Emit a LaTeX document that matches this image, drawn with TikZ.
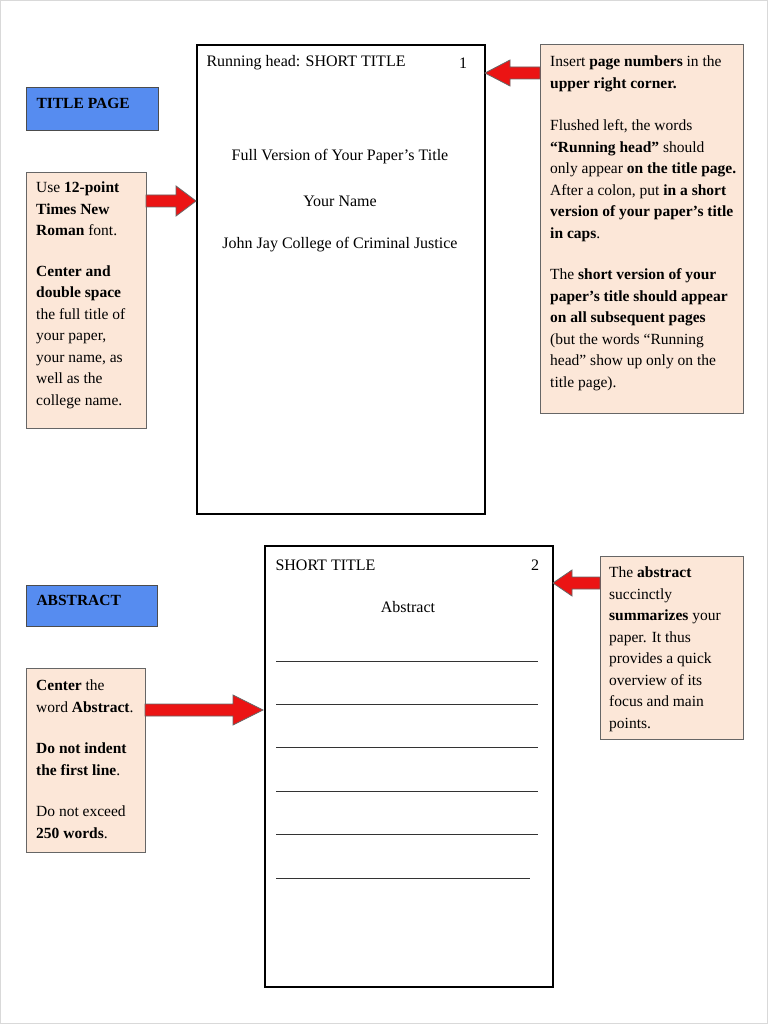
\documentclass[tikz,border=0pt]{standalone}
\usepackage{fontspec}
\setmainfont{Liberation Serif}
\begin{document}
\begin{tikzpicture}[x=1pt,y=-1pt,
  note/.style={draw=black!60,fill={rgb,255:red,252;green,231;blue,216},line width=1pt,anchor=north west,inner sep=0pt},
  lbl/.style={draw=black!70,fill={rgb,255:red,86;green,140;blue,240},line width=1pt,anchor=north west,inner sep=0pt},
  page/.style={draw=black,line width=1.6pt,anchor=north west,inner sep=0pt},
  rarrow/.style={fill={rgb,255:red,235;green,20;blue,20},draw=black!60,line width=0.8pt},
  txt/.style={font=\fontsize{16}{21.3}\selectfont},
  ntxt/.style={font=\fontsize{15.5}{21.5}\selectfont,anchor=north west,align=left,inner sep=0pt}]
\useasboundingbox (0,0) rectangle (768,1024);
\draw[black!15] (0.5,0.5) rectangle (767.5,1023.5);
% title page
\node[lbl,minimum width=132pt,minimum height=43pt] (tp) at (26,87) {};
\node[font=\bfseries\fontsize{15.5}{17}\selectfont,anchor=west] (tpt) at (33,103) {TITLE PAGE};
\node[page,minimum width=288pt,minimum height=469pt] (p1) at (196,44) {};
\node[txt,anchor=west] (rh) at (203,63) {Running head: SHORT TITLE};
\node[txt] (n1) at (463,63) {1};
\node[txt] (t1) at (340,157) {Full Version of Your Paper’s Title};
\node[txt] (t2) at (340,201) {Your Name};
\node[txt] (t3) at (340,245) {John Jay College of Criminal Justice};
\node[note,minimum width=120pt,minimum height=256pt] (l1) at (26,172) {};
\node[ntxt] (l1t) at (36,182) {Use \textbf{12-point}\\\textbf{Times New}\\\textbf{Roman} font.\\[19pt]\textbf{Center and}\\\textbf{double space}\\the full title of\\your paper,\\your name, as\\well as the\\college name.};
\node[note,minimum width=203pt,minimum height=369pt] (r1) at (540,44) {};
\node[ntxt] (r1t) at (550,56) {Insert \textbf{page numbers} in the\\\textbf{upper right corner.}\\[21pt]Flushed left, the words\\\textbf{“Running head”} should\\only appear \textbf{on the title page.}\\After a colon, put \textbf{in a short}\\\textbf{version of your paper’s title}\\\textbf{in caps}.\\[20pt]The \textbf{short version of your}\\\textbf{paper’s title should appear}\\\textbf{on all subsequent pages}\\(but the words “Running\\head” show up only on the\\title page).};
\draw[rarrow] (146,195)--(176,195)--(176,186)--(196,201)--(176,216)--(176,207)--(146,207)--cycle;
\draw[rarrow] (540,67)--(510,67)--(510,60)--(485,73)--(510,86)--(510,79)--(540,79)--cycle;
% abstract page
\node[lbl,minimum width=131pt,minimum height=41pt] (ab) at (26,585) {};
\node[font=\bfseries\fontsize{15.5}{17}\selectfont,anchor=west] (abt) at (33,600) {ABSTRACT};
\node[page,minimum width=288pt,minimum height=441pt] (p2) at (264,545) {};
\node[txt,anchor=west] (st) at (272,565) {SHORT TITLE};
\node[txt] (n2) at (535,565) {2};
\node[txt] (abh) at (408,607) {Abstract};
\foreach \y/\e in {661/538,704/538,747/538,791/538,834/538,878/530}
  \draw[black!80,line width=0.8pt] (276,\y)--(\e,\y);
\node[note,minimum width=119pt,minimum height=184pt] (l2) at (26,668) {};
\node[ntxt] (l2t) at (36,680) {\textbf{Center} the\\word \textbf{Abstract}.\\[20pt]\textbf{Do not indent}\\\textbf{the first line}.\\[20pt]Do not exceed\\\textbf{250 words}.};
\node[note,minimum width=143pt,minimum height=183pt] (r2) at (600,556) {};
\node[ntxt] (r2t) at (609,567) {The \textbf{abstract}\\succinctly\\\textbf{summarizes} your\\paper. It thus\\provides a quick\\overview of its\\focus and main\\points.};
\draw[rarrow] (145,704)--(233,704)--(233,695)--(263,710)--(233,725)--(233,716)--(145,716)--cycle;
\draw[rarrow] (600,577)--(572,577)--(572,570)--(553,583)--(572,596)--(572,589)--(600,589)--cycle;
\end{tikzpicture}
\end{document}
